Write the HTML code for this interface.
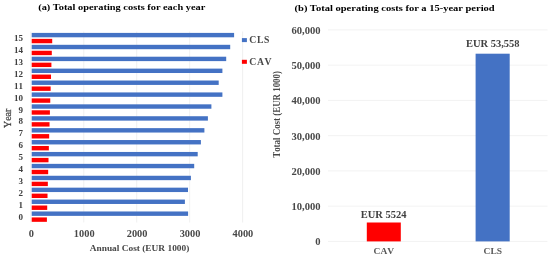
<!DOCTYPE html>
<html><head><meta charset="utf-8"><title>Operating costs</title>
<style>html,body{margin:0;padding:0;background:#fff}svg{display:block;filter:blur(0.3px)}text{font-family:"Liberation Serif","Times New Roman",serif;font-kerning:none}.b{font-weight:bold}.k{font-kerning:normal}.g{fill:#484848}.d{fill:#404040}</style></head><body>
<svg width="550" height="258" viewBox="0 0 550 258">
<rect width="550" height="258" fill="#fff"/>
<line x1="30.80" y1="31.5" x2="30.80" y2="222.5" stroke="#e9e9e9" stroke-width="0.7"/>
<line x1="83.75" y1="31.5" x2="83.75" y2="222.5" stroke="#e9e9e9" stroke-width="0.7"/>
<line x1="136.70" y1="31.5" x2="136.70" y2="222.5" stroke="#e9e9e9" stroke-width="0.7"/>
<line x1="189.65" y1="31.5" x2="189.65" y2="222.5" stroke="#e9e9e9" stroke-width="0.7"/>
<line x1="242.60" y1="31.5" x2="242.60" y2="222.5" stroke="#e9e9e9" stroke-width="0.7"/>
<rect x="31.7" y="211.47" width="156.40" height="4.4" fill="#4472c4"/>
<rect x="31.7" y="217.43" width="15.20" height="4.4" fill="#ff0000"/>
<text transform="translate(23.0,219.70000000000002) scale(1.0,1)" font-size="9" text-anchor="end" class="b d">0</text>
<rect x="31.7" y="199.57" width="153.20" height="4.4" fill="#4472c4"/>
<rect x="31.7" y="205.52" width="15.51" height="4.4" fill="#ff0000"/>
<text transform="translate(23.0,207.79500000000002) scale(1.0,1)" font-size="9" text-anchor="end" class="b d">1</text>
<rect x="31.7" y="187.66" width="156.30" height="4.4" fill="#4472c4"/>
<rect x="31.7" y="193.62" width="15.82" height="4.4" fill="#ff0000"/>
<text transform="translate(23.0,195.89000000000001) scale(1.0,1)" font-size="9" text-anchor="end" class="b d">2</text>
<rect x="31.7" y="175.76" width="159.20" height="4.4" fill="#4472c4"/>
<rect x="31.7" y="181.71" width="16.14" height="4.4" fill="#ff0000"/>
<text transform="translate(23.0,183.985) scale(1.0,1)" font-size="9" text-anchor="end" class="b d">3</text>
<rect x="31.7" y="163.85" width="162.50" height="4.4" fill="#4472c4"/>
<rect x="31.7" y="169.81" width="16.47" height="4.4" fill="#ff0000"/>
<text transform="translate(23.0,172.08) scale(1.0,1)" font-size="9" text-anchor="end" class="b d">4</text>
<rect x="31.7" y="151.95" width="166.00" height="4.4" fill="#4472c4"/>
<rect x="31.7" y="157.90" width="16.80" height="4.4" fill="#ff0000"/>
<text transform="translate(23.0,160.175) scale(1.0,1)" font-size="9" text-anchor="end" class="b d">5</text>
<rect x="31.7" y="140.04" width="169.20" height="4.4" fill="#4472c4"/>
<rect x="31.7" y="146.00" width="17.14" height="4.4" fill="#ff0000"/>
<text transform="translate(23.0,148.27) scale(1.0,1)" font-size="9" text-anchor="end" class="b d">6</text>
<rect x="31.7" y="128.14" width="172.70" height="4.4" fill="#4472c4"/>
<rect x="31.7" y="134.09" width="17.48" height="4.4" fill="#ff0000"/>
<text transform="translate(23.0,136.365) scale(1.0,1)" font-size="9" text-anchor="end" class="b d">7</text>
<rect x="31.7" y="116.23" width="176.20" height="4.4" fill="#4472c4"/>
<rect x="31.7" y="122.18" width="17.84" height="4.4" fill="#ff0000"/>
<text transform="translate(23.0,124.46) scale(1.0,1)" font-size="9" text-anchor="end" class="b d">8</text>
<rect x="31.7" y="104.33" width="179.70" height="4.4" fill="#4472c4"/>
<rect x="31.7" y="110.28" width="18.20" height="4.4" fill="#ff0000"/>
<text transform="translate(23.0,112.55499999999999) scale(1.0,1)" font-size="9" text-anchor="end" class="b d">9</text>
<rect x="31.7" y="92.42" width="190.70" height="4.4" fill="#4472c4"/>
<rect x="31.7" y="98.38" width="18.56" height="4.4" fill="#ff0000"/>
<text transform="translate(23.0,100.65) scale(1.0,1)" font-size="9" text-anchor="end" class="b d">10</text>
<rect x="31.7" y="80.52" width="187.00" height="4.4" fill="#4472c4"/>
<rect x="31.7" y="86.47" width="18.94" height="4.4" fill="#ff0000"/>
<text transform="translate(23.0,88.745) scale(1.0,1)" font-size="9" text-anchor="end" class="b d">11</text>
<rect x="31.7" y="68.61" width="190.70" height="4.4" fill="#4472c4"/>
<rect x="31.7" y="74.56" width="19.32" height="4.4" fill="#ff0000"/>
<text transform="translate(23.0,76.84) scale(1.0,1)" font-size="9" text-anchor="end" class="b d">12</text>
<rect x="31.7" y="56.71" width="194.50" height="4.4" fill="#4472c4"/>
<rect x="31.7" y="62.66" width="19.71" height="4.4" fill="#ff0000"/>
<text transform="translate(23.0,64.93499999999999) scale(1.0,1)" font-size="9" text-anchor="end" class="b d">13</text>
<rect x="31.7" y="44.80" width="198.50" height="4.4" fill="#4472c4"/>
<rect x="31.7" y="50.75" width="20.10" height="4.4" fill="#ff0000"/>
<text transform="translate(23.0,53.029999999999994) scale(1.0,1)" font-size="9" text-anchor="end" class="b d">14</text>
<rect x="31.7" y="32.90" width="202.40" height="4.4" fill="#4472c4"/>
<rect x="31.7" y="38.85" width="20.51" height="4.4" fill="#ff0000"/>
<text transform="translate(23.0,41.12499999999999) scale(1.0,1)" font-size="9" text-anchor="end" class="b d">15</text>
<text transform="translate(31.3,236.5) scale(1.07,1)" font-size="9.7" text-anchor="middle" class="b g">0</text>
<text transform="translate(84.2,236.5) scale(1.07,1)" font-size="9.7" text-anchor="middle" class="b g">1000</text>
<text transform="translate(137.1,236.5) scale(1.07,1)" font-size="9.7" text-anchor="middle" class="b g">2000</text>
<text transform="translate(190.0,236.5) scale(1.07,1)" font-size="9.7" text-anchor="middle" class="b g">3000</text>
<text transform="translate(242.9,236.5) scale(1.07,1)" font-size="9.7" text-anchor="middle" class="b g">4000</text>
<text transform="translate(139.5,250.9) scale(1.185,1)" font-size="7.9" text-anchor="middle" class="b g">Annual Cost (EUR 1000)</text>
<text transform="translate(10.8,118.3) scale(1.12,1) rotate(-90)" font-size="9.9" text-anchor="middle" class="g" stroke="#484848" stroke-width="0.25">Year</text>
<text transform="translate(38.2,10) scale(1.155,1)" font-size="9" text-anchor="start" class="b k" fill="#000">(a) Total operating costs for each year</text>
<rect x="241.9" y="38.1" width="5" height="4" fill="#4472c4"/>
<rect x="241.9" y="59.8" width="5" height="4" fill="#ff0000"/>
<text transform="translate(249.3,43.4) scale(1.0,1)" font-size="9.7" text-anchor="start" class="b g" letter-spacing="0.58">CLS</text>
<text transform="translate(249.3,65.2) scale(1.0,1)" font-size="9.7" text-anchor="start" class="b g" letter-spacing="0.58">CAV</text>
<line x1="328" y1="241.40" x2="547.5" y2="241.40" stroke="#ececec" stroke-width="0.7"/>
<text transform="translate(320.6,245.3) scale(1.084,1)" font-size="9.8" text-anchor="end" class="b g">0</text>
<line x1="328" y1="206.15" x2="547.5" y2="206.15" stroke="#ececec" stroke-width="0.7"/>
<text transform="translate(320.6,210.05) scale(1.084,1)" font-size="9.8" text-anchor="end" class="b g">10,000</text>
<line x1="328" y1="170.90" x2="547.5" y2="170.90" stroke="#ececec" stroke-width="0.7"/>
<text transform="translate(320.6,174.8) scale(1.084,1)" font-size="9.8" text-anchor="end" class="b g">20,000</text>
<line x1="328" y1="135.65" x2="547.5" y2="135.65" stroke="#ececec" stroke-width="0.7"/>
<text transform="translate(320.6,139.55) scale(1.084,1)" font-size="9.8" text-anchor="end" class="b g">30,000</text>
<line x1="328" y1="100.40" x2="547.5" y2="100.40" stroke="#ececec" stroke-width="0.7"/>
<text transform="translate(320.6,104.30000000000001) scale(1.084,1)" font-size="9.8" text-anchor="end" class="b g">40,000</text>
<line x1="328" y1="65.15" x2="547.5" y2="65.15" stroke="#ececec" stroke-width="0.7"/>
<text transform="translate(320.6,69.05000000000001) scale(1.084,1)" font-size="9.8" text-anchor="end" class="b g">50,000</text>
<line x1="328" y1="29.90" x2="547.5" y2="29.90" stroke="#ececec" stroke-width="0.7"/>
<text transform="translate(320.6,33.800000000000004) scale(1.084,1)" font-size="9.8" text-anchor="end" class="b g">60,000</text>
<rect x="366.8" y="222.5" width="34.0" height="18.90" fill="#ff0000"/>
<rect x="475.6" y="53.7" width="34.1" height="187.70" fill="#4472c4"/>
<text transform="translate(383.6,218) scale(1.072,1)" font-size="9.8" text-anchor="middle" class="b" fill="#404040">EUR 5524</text>
<text transform="translate(492.8,46.8) scale(1.072,1)" font-size="9.8" text-anchor="middle" class="b" fill="#404040">EUR 53,558</text>
<text transform="translate(383.8,254.2) scale(1.155,1)" font-size="8.2" text-anchor="middle" class="b" fill="#595959">CAV</text>
<text transform="translate(492.8,254.2) scale(1.155,1)" font-size="8.2" text-anchor="middle" class="b" fill="#595959">CLS</text>
<text transform="translate(280.0,114.4) scale(1.155,1) rotate(-90)" font-size="8.9" text-anchor="middle" class="b g">Total Cost (EUR 1000)</text>
<text transform="translate(294.6,10.5) scale(1.1626,1)" font-size="9.05" text-anchor="start" class="b k" fill="#000">(b) Total operating costs for a 15-year period</text>
</svg></body></html>
